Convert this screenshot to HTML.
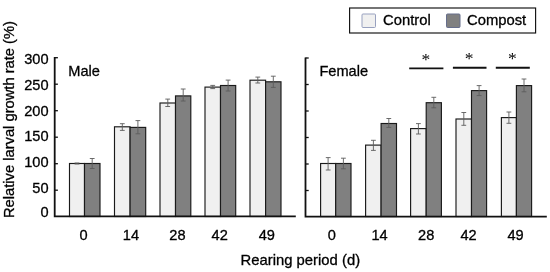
<!DOCTYPE html>
<html><head><meta charset="utf-8"><title>Relative larval growth rate</title>
<style>
html,body{margin:0;padding:0;background:#fff;}
svg{display:block;}
text{font-family:"Liberation Sans",Arial,Helvetica,sans-serif;fill:#000;stroke:#000;stroke-width:0.3px;}
.t{font-size:14.6px;}
.t2{font-size:14.6px;}
.t3{font-size:14.8px;}
.st{font-size:17.5px;font-family:"Liberation Serif",serif;stroke:none;}
</style></head><body>
<svg width="550" height="272" viewBox="0 0 550 272">
<rect width="550" height="272" fill="#fff"/>
<rect x="69.5" y="163.5" width="15.0" height="53.0" fill="#f0f0f0" stroke="#1a1a1a" stroke-width="1.15"/>
<rect x="84.5" y="163.5" width="15.5" height="53.0" fill="#808080" stroke="#1a1a1a" stroke-width="1.15"/>
<path d="M77.0 163.0V164.0M74.6 163.0h4.8M74.6 164.0h4.8" stroke="#5c5c5c" stroke-width="0.9" fill="none"/>
<path d="M92.2 158.5V168.5M89.8 158.5h4.8M89.8 168.5h4.8" stroke="#5c5c5c" stroke-width="0.9" fill="none"/>
<rect x="114.5" y="126.8" width="15.6" height="89.7" fill="#f0f0f0" stroke="#1a1a1a" stroke-width="1.15"/>
<rect x="130.1" y="127.4" width="15.6" height="89.1" fill="#808080" stroke="#1a1a1a" stroke-width="1.15"/>
<path d="M122.3 123.7V130.4M119.9 123.7h4.8M119.9 130.4h4.8" stroke="#5c5c5c" stroke-width="0.9" fill="none"/>
<path d="M137.9 120.6V133.8M135.5 120.6h4.8M135.5 133.8h4.8" stroke="#5c5c5c" stroke-width="0.9" fill="none"/>
<rect x="160.0" y="103.0" width="15.5" height="113.5" fill="#f0f0f0" stroke="#1a1a1a" stroke-width="1.15"/>
<rect x="175.5" y="95.9" width="15.3" height="120.6" fill="#808080" stroke="#1a1a1a" stroke-width="1.15"/>
<path d="M167.8 99.1V106.5M165.3 99.1h4.8M165.3 106.5h4.8" stroke="#5c5c5c" stroke-width="0.9" fill="none"/>
<path d="M183.2 89.0V101.0M180.8 89.0h4.8M180.8 101.0h4.8" stroke="#5c5c5c" stroke-width="0.9" fill="none"/>
<rect x="205.0" y="87.1" width="15.5" height="129.4" fill="#f0f0f0" stroke="#1a1a1a" stroke-width="1.15"/>
<rect x="220.5" y="85.5" width="15.2" height="131.0" fill="#808080" stroke="#1a1a1a" stroke-width="1.15"/>
<path d="M212.8 85.4V88.6M210.3 85.4h4.8M210.3 88.6h4.8" stroke="#5c5c5c" stroke-width="0.9" fill="none"/>
<path d="M228.1 80.1V91.0M225.7 80.1h4.8M225.7 91.0h4.8" stroke="#5c5c5c" stroke-width="0.9" fill="none"/>
<rect x="250.0" y="80.2" width="15.6" height="136.3" fill="#f0f0f0" stroke="#1a1a1a" stroke-width="1.15"/>
<rect x="265.6" y="81.8" width="15.4" height="134.7" fill="#808080" stroke="#1a1a1a" stroke-width="1.15"/>
<path d="M257.8 77.1V83.0M255.4 77.1h4.8M255.4 83.0h4.8" stroke="#5c5c5c" stroke-width="0.9" fill="none"/>
<path d="M273.3 76.2V87.4M270.9 76.2h4.8M270.9 87.4h4.8" stroke="#5c5c5c" stroke-width="0.9" fill="none"/>
<rect x="320.6" y="163.5" width="15.1" height="53.0" fill="#f0f0f0" stroke="#1a1a1a" stroke-width="1.15"/>
<rect x="335.7" y="163.5" width="15.3" height="53.0" fill="#808080" stroke="#1a1a1a" stroke-width="1.15"/>
<path d="M328.1 157.6V170.0M325.8 157.6h4.8M325.8 170.0h4.8" stroke="#5c5c5c" stroke-width="0.9" fill="none"/>
<path d="M343.4 158.2V168.8M341.0 158.2h4.8M341.0 168.8h4.8" stroke="#5c5c5c" stroke-width="0.9" fill="none"/>
<rect x="365.6" y="145.1" width="15.5" height="71.4" fill="#f0f0f0" stroke="#1a1a1a" stroke-width="1.15"/>
<rect x="381.1" y="123.5" width="15.4" height="93.0" fill="#808080" stroke="#1a1a1a" stroke-width="1.15"/>
<path d="M373.4 140.3V150.4M371.0 140.3h4.8M371.0 150.4h4.8" stroke="#5c5c5c" stroke-width="0.9" fill="none"/>
<path d="M388.8 118.5V127.4M386.4 118.5h4.8M386.4 127.4h4.8" stroke="#5c5c5c" stroke-width="0.9" fill="none"/>
<rect x="410.6" y="128.6" width="15.6" height="87.9" fill="#f0f0f0" stroke="#1a1a1a" stroke-width="1.15"/>
<rect x="426.2" y="102.7" width="15.2" height="113.8" fill="#808080" stroke="#1a1a1a" stroke-width="1.15"/>
<path d="M418.4 123.6V134.0M416.0 123.6h4.8M416.0 134.0h4.8" stroke="#5c5c5c" stroke-width="0.9" fill="none"/>
<path d="M433.8 97.3V107.8M431.4 97.3h4.8M431.4 107.8h4.8" stroke="#5c5c5c" stroke-width="0.9" fill="none"/>
<rect x="456.0" y="119.0" width="15.5" height="97.5" fill="#f0f0f0" stroke="#1a1a1a" stroke-width="1.15"/>
<rect x="471.5" y="90.6" width="15.1" height="125.9" fill="#808080" stroke="#1a1a1a" stroke-width="1.15"/>
<path d="M463.8 112.5V125.3M461.4 112.5h4.8M461.4 125.3h4.8" stroke="#5c5c5c" stroke-width="0.9" fill="none"/>
<path d="M479.1 85.6V95.6M476.7 85.6h4.8M476.7 95.6h4.8" stroke="#5c5c5c" stroke-width="0.9" fill="none"/>
<rect x="501.4" y="117.6" width="15.0" height="98.9" fill="#f0f0f0" stroke="#1a1a1a" stroke-width="1.15"/>
<rect x="516.4" y="85.6" width="15.2" height="130.9" fill="#808080" stroke="#1a1a1a" stroke-width="1.15"/>
<path d="M508.9 112.0V123.3M506.5 112.0h4.8M506.5 123.3h4.8" stroke="#5c5c5c" stroke-width="0.9" fill="none"/>
<path d="M524.0 79.0V91.8M521.6 79.0h4.8M521.6 91.8h4.8" stroke="#5c5c5c" stroke-width="0.9" fill="none"/>
<path d="M54.7 57.1V216.4H295.8" stroke="#111" stroke-width="1.8" fill="none" stroke-linejoin="miter"/>
<path d="M54.7 190.2h3.2" stroke="#111" stroke-width="1.3" fill="none"/>
<path d="M54.7 163.7h3.2" stroke="#111" stroke-width="1.3" fill="none"/>
<path d="M54.7 137.2h3.2" stroke="#111" stroke-width="1.3" fill="none"/>
<path d="M54.7 110.7h3.2" stroke="#111" stroke-width="1.3" fill="none"/>
<path d="M54.7 84.2h3.2" stroke="#111" stroke-width="1.3" fill="none"/>
<path d="M54.7 57.7h3.2" stroke="#111" stroke-width="1.3" fill="none"/>
<path d="M305.5 57.4V216.7H546.8" stroke="#111" stroke-width="1.8" fill="none" stroke-linejoin="miter"/>
<path d="M305.5 190.5h3.2" stroke="#111" stroke-width="1.3" fill="none"/>
<path d="M305.5 164.0h3.2" stroke="#111" stroke-width="1.3" fill="none"/>
<path d="M305.5 137.5h3.2" stroke="#111" stroke-width="1.3" fill="none"/>
<path d="M305.5 111.0h3.2" stroke="#111" stroke-width="1.3" fill="none"/>
<path d="M305.5 84.5h3.2" stroke="#111" stroke-width="1.3" fill="none"/>
<path d="M305.5 58.0h3.2" stroke="#111" stroke-width="1.3" fill="none"/>
<text x="48.6" y="217.1" text-anchor="end" class="t">0</text>
<text x="48.6" y="192.7" text-anchor="end" class="t">50</text>
<text x="48.6" y="166.9" text-anchor="end" class="t">100</text>
<text x="48.6" y="140.8" text-anchor="end" class="t">150</text>
<text x="48.6" y="115.8" text-anchor="end" class="t">200</text>
<text x="48.6" y="89.7" text-anchor="end" class="t">250</text>
<text x="48.6" y="64.0" text-anchor="end" class="t">300</text>
<text x="83.6" y="239.7" text-anchor="middle" class="t">0</text>
<text x="130.9" y="239.7" text-anchor="middle" class="t">14</text>
<text x="177.4" y="239.7" text-anchor="middle" class="t">28</text>
<text x="219.7" y="239.7" text-anchor="middle" class="t">42</text>
<text x="266.8" y="239.7" text-anchor="middle" class="t">49</text>
<text x="331.8" y="239.7" text-anchor="middle" class="t">0</text>
<text x="379.5" y="239.7" text-anchor="middle" class="t">14</text>
<text x="426.2" y="239.7" text-anchor="middle" class="t">28</text>
<text x="468.6" y="239.7" text-anchor="middle" class="t">42</text>
<text x="515.6" y="239.7" text-anchor="middle" class="t">49</text>
<text x="240.5" y="264.7" class="t2" textLength="119.6" lengthAdjust="spacingAndGlyphs">Rearing period (d)</text>
<text transform="translate(14 218) rotate(-90)" class="t2" textLength="197" lengthAdjust="spacingAndGlyphs">Relative larval growth rate (%)</text>
<text x="68.3" y="76.2" class="t2">Male</text>
<text x="319.4" y="76.4" class="t2">Female</text>
<rect x="349.6" y="8" width="186" height="25" fill="#fff" stroke="#111" stroke-width="1.15"/>
<rect x="362" y="14" width="13.5" height="13.5" rx="1" fill="#f0f0f0" stroke="#98a1bf" stroke-width="1"/>
<rect x="446.5" y="14" width="13.5" height="13.5" rx="1" fill="#808080" stroke="#666e8c" stroke-width="1"/>
<text x="383" y="25.2" class="t3">Control</text>
<text x="467" y="25.2" class="t3">Compost</text>
<path d="M409.2 68.35H443.4" stroke="#111" stroke-width="1.9"/>
<text x="425.8" y="65.2" text-anchor="middle" class="st">*</text>
<path d="M452.9 67.7H486.5" stroke="#111" stroke-width="1.9"/>
<text x="469.2" y="64.2" text-anchor="middle" class="st">*</text>
<path d="M495.8 67.7H529.8" stroke="#111" stroke-width="1.9"/>
<text x="512.3" y="64.2" text-anchor="middle" class="st">*</text>
</svg>
</body></html>
